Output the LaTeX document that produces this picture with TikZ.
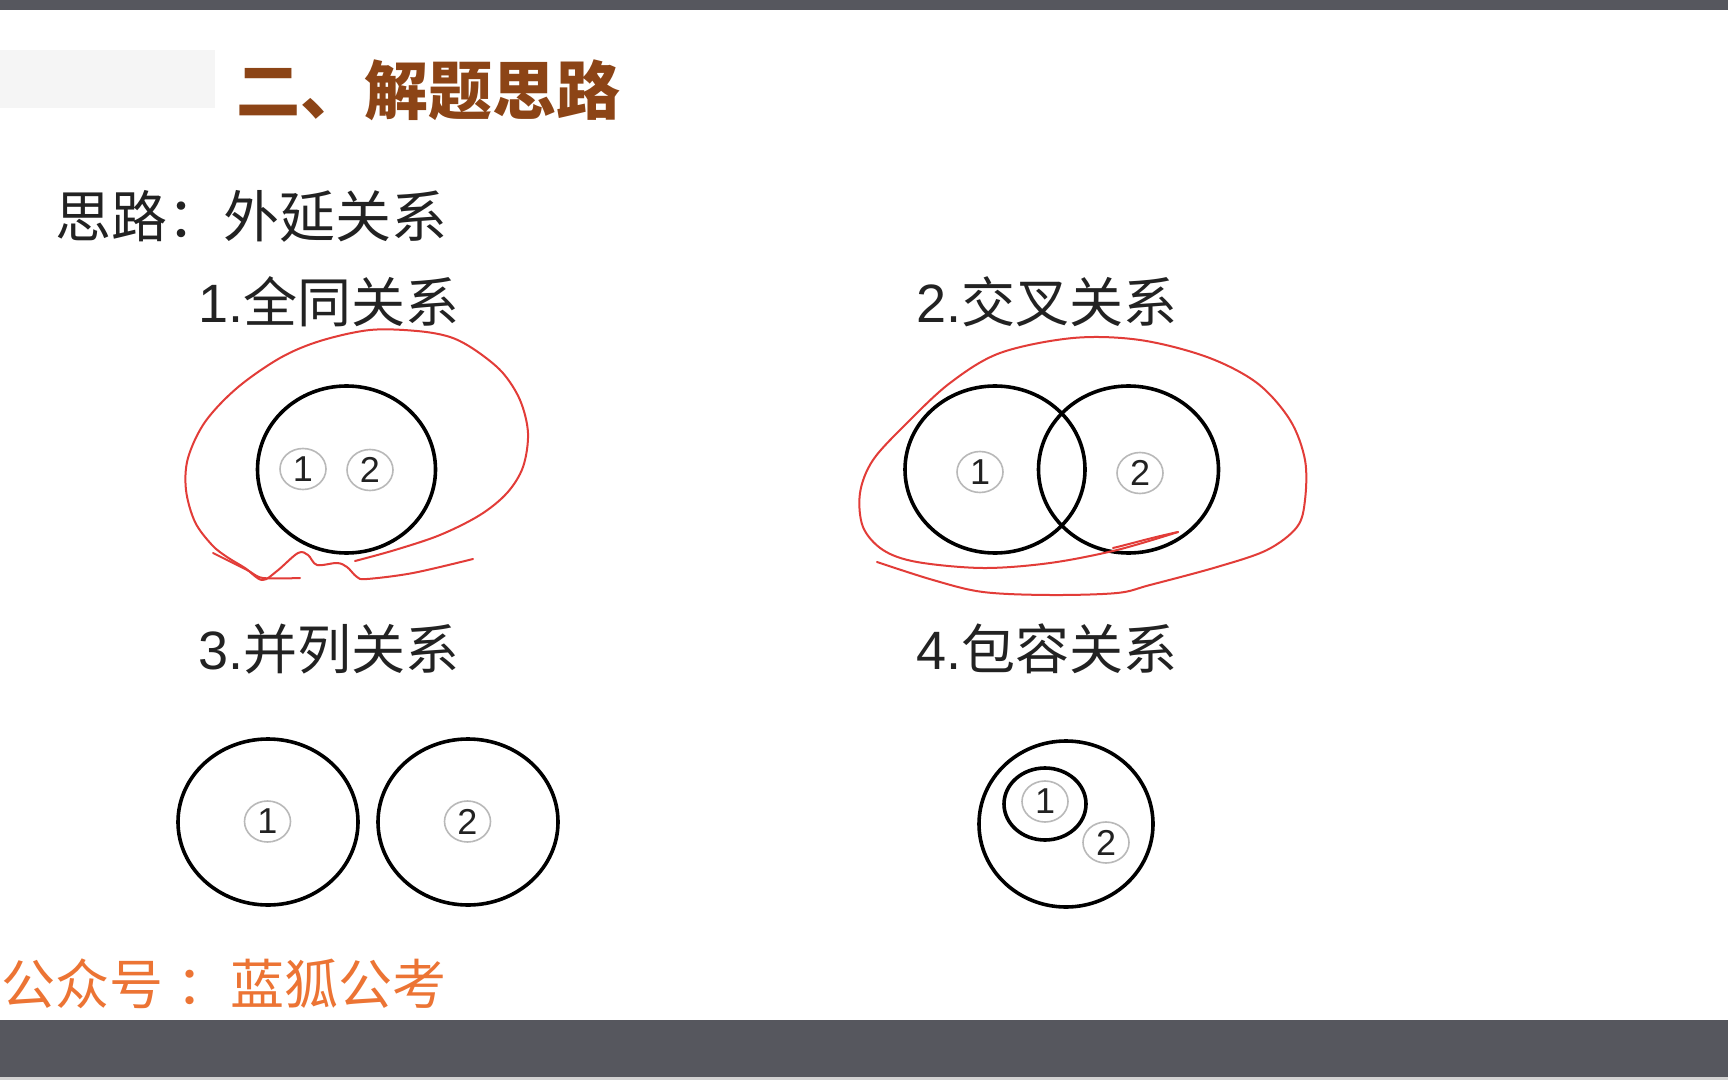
\documentclass[tikz,border=0pt]{standalone}
\usepackage{fontspec}
\usepackage{graphicx}
\usetikzlibrary{shapes.geometric}
\setmainfont{Liberation Sans}
\newfontfamily\cjk{Noto Sans CJK SC}
\definecolor{barcol}{RGB}{86,87,94}
\definecolor{titlebrown}{RGB}{140,68,22}
\definecolor{textgray}{RGB}{34,34,34}
\definecolor{penred}{RGB}{226,60,56}
\definecolor{footorange}{RGB}{236,116,52}
\tikzset{
  ring/.style={ellipse, draw=black, line width=1.8pt, inner sep=0pt},
  tag/.style={ellipse, draw=gray!55, line width=0.8pt, minimum width=23pt, minimum height=20.5pt, inner sep=0pt, text=textgray, font=\fontsize{18}{18}\selectfont},
  redpen/.style={draw=penred, line width=1pt, line cap=round, line join=round},
  txt/.style={anchor=base west, inner sep=0pt, outer sep=0pt, text=textgray},
  subhead/.style={txt, font=\fontsize{27}{30}\selectfont},
}
\begin{document}
\begin{tikzpicture}[x=0.5pt,y=-0.5pt]
\useasboundingbox (0,0) rectangle (1728,1080);
\fill[white] (0,0) rectangle (1728,1080);
% bars
\fill[barcol] (0,0) rectangle (1728,10);
\fill[barcol] (0,1020) rectangle (1728,1077);
\fill[gray!35] (0,1077) rectangle (1728,1080);
\fill[black!4] (0,50) rectangle (215,108);
% title and texts
\node[txt, text=titlebrown, font=\cjk\bfseries\fontsize{32}{36}\selectfont] (title) at (236,115) {二、解题思路};
\node[txt, font=\cjk\fontsize{28}{32}\selectfont] (idea) at (55,238) {思路：外延关系};
\node[subhead] (h1) at (198,323) {1.{\cjk 全同关系}};
\node[subhead] (h2) at (916,323) {2.{\cjk 交叉关系}};
\node[subhead] (h3) at (198,669) {3.{\cjk 并列关系}};
\node[subhead] (h4) at (916,669) {4.{\cjk 包容关系}};
\node[txt, text=footorange, font=\cjk\fontsize{27}{30}\selectfont] (foot) at (2,1004) {公众号 ：蓝狐公考};
% group 1
\node[ring, minimum width=89pt, minimum height=83.5pt] (c1) at (346.5,469.5) {};
\node[tag] (c1a) at (303,469) {1};
\node[tag] (c1b) at (370,470) {2};
% group 2
\node[ring, minimum width=90pt, minimum height=83.5pt] (c2a) at (995,469.5) {};
\node[ring, minimum width=90pt, minimum height=83.5pt] (c2b) at (1128.5,469.5) {};
\node[tag] (c2al) at (980,472) {1};
\node[tag] (c2bl) at (1140,473) {2};
% group 3
\node[ring, minimum width=90pt, minimum height=83pt] (c3a) at (268,822) {};
\node[ring, minimum width=90pt, minimum height=83pt] (c3b) at (468,822) {};
\node[tag] (c3al) at (267.5,821.5) {1};
\node[tag] (c3bl) at (467.5,821.5) {2};
% group 4
\node[ring, minimum width=87pt, minimum height=83pt] (c4o) at (1066,824) {};
\node[ring, minimum width=41pt, minimum height=36pt] (c4i) at (1045,804) {};
\node[tag] (c4il) at (1045,801.5) {1};
\node[tag] (c4ol) at (1106,842.5) {2};
% red pen strokes, group 1
\draw[redpen] plot[smooth, tension=0.55] coordinates {
 (473,559) (413,573) (367,579) (357,577) (347,567) (337,563) (317,565)
 (308,555) (298,553) (277,571) (262,580) (245,568) (227,557) (212,545)
 (195,522) (186,490) (188,458) (205,422) (237,388) (280,358) (320,341)
 (370,330) (417,331) (450,337) (475,350) (502,372) (520,400) (528,433)
 (523,467) (507,493) (480,515) (440,535) (395,550) (355,561)};
\draw[redpen] plot[smooth, tension=0.5] coordinates {(213,553) (247,570) (263,578) (300,578)};
% red pen strokes, group 2
\draw[redpen] plot[smooth, tension=0.55] coordinates {
 (877,562) (933,580) (983,592) (1050,595) (1117,593) (1150,585) (1217,567)
 (1267,550) (1297,527) (1305,500) (1305,460) (1290,420) (1257,383)
 (1207,357) (1140,340) (1073,338) (1000,353) (950,383) (907,423)
 (873,460) (860,493) (863,527) (883,550) (917,562) (983,568) (1050,563)
 (1117,550) (1178,532)};
\draw[redpen] (1178,532) .. controls (1150,538) and (1130,544) .. (1113,548);
\end{tikzpicture}
\end{document}
